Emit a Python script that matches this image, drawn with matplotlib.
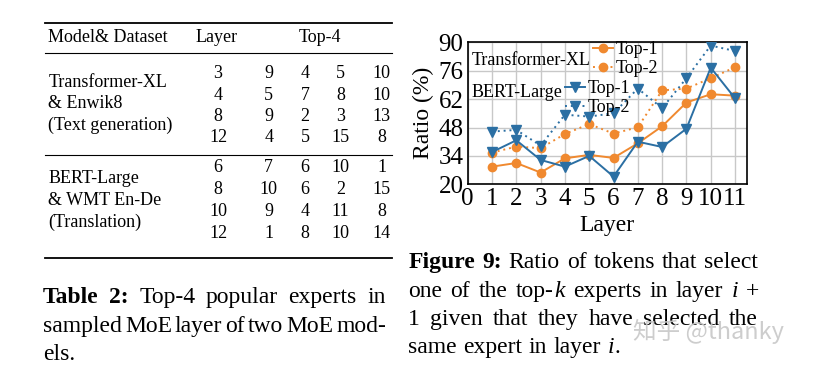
import matplotlib
matplotlib.use('Agg')
import matplotlib.pyplot as plt
from matplotlib.lines import Line2D

W, H = 814, 372
plt.rcParams['font.family'] = ['Liberation Serif', 'DejaVu Serif']
plt.rcParams['mathtext.fontset'] = 'stix'

# ---------------- data ----------------
layers = list(range(1, 12))
txl_top1 = [28.7, 30.5, 25.8, 32.8, 34.5, 33.0, 40.2, 48.6, 60.3, 64.4, 63.7]
txl_top2 = [35.6, 38.6, 37.8, 44.8, 49.7, 45.0, 48.1, 66.3, 67.2, 72.3, 77.7]
bert_top1 = [35.9, 41.7, 32.0, 28.7, 34.0, 23.8, 41.0, 38.4, 47.4, 77.5, 62.4]
bert_top2 = [46.0, 46.8, 39.1, 54.3, 53.4, 55.0, 67.2, 57.5, 72.3, 88.4, 85.7]
y_ticks = [20, 34, 48, 62, 76, 90]
x_ticks = list(range(0, 12))

table_header = ["Model& Dataset", "Layer", "Top-4"]
table_models = [["Transformer-XL", "& Enwik8", "(Text generation)"],
                ["BERT-Large", "& WMT En-De", "(Translation)"]]
table_layers = [[3, 4, 8, 12], [6, 8, 10, 12]]
table_top4 = [[[9, 4, 5, 10], [5, 7, 8, 10], [9, 2, 3, 13], [4, 5, 15, 8]],
              [[7, 6, 10, 1], [10, 6, 2, 15], [9, 4, 11, 8], [1, 8, 10, 14]]]

ORANGE = '#f0892f'
BLUE = '#2b6fa3'

fig = plt.figure(figsize=(W / 100, H / 100), dpi=100)


def fx(x):
    return x / W


def fy(y):
    return 1 - y / H


# ---------------- chart ----------------
ax = fig.add_axes([fx(467.7), fy(184.3), (746.7 - 467.7) / W, (184.3 - 42.3) / H])
ax.plot(layers, txl_top1, color=ORANGE, lw=1.4, marker='o', ms=6, label='Top-1', zorder=3)
ax.plot(layers, txl_top2, color=ORANGE, lw=1.4, ls=(0, (1, 2)), marker='o', ms=6, label='Top-2', zorder=3)
ax.plot(layers, bert_top1, color=BLUE, lw=1.4, marker='v', ms=7, label='Top-1', zorder=3)
ax.plot(layers, bert_top2, color=BLUE, lw=1.4, ls=(0, (1, 2)), marker='v', ms=7, label='Top-2', zorder=3)
ax.set_xlim(0, 11.48)
ax.set_ylim(20, 90)
ax.set_xticks(x_ticks)
ax.set_yticks(y_ticks)
ax.grid(True, color='#c8c8c8', lw=1.0)
ax.set_axisbelow(True)
for s in ax.spines.values():
    s.set_linewidth(1.2)
    s.set_color('black')
ax.tick_params(length=0, labelsize=18, pad=3)
ax.set_xlabel('Layer', fontsize=17, labelpad=3)
ax.set_ylabel('Ratio (%)', fontsize=17, labelpad=3)

lines = ax.get_lines()
leg1 = ax.legend(handles=lines[:2], loc='upper left', bbox_to_anchor=(fx(593), fy(41)),
                 bbox_transform=fig.transFigure, frameon=False, fontsize=13,
                 borderpad=0, borderaxespad=0, handlelength=1.1, handletextpad=0.15,
                 labelspacing=0.12)
ax.add_artist(leg1)
leg2 = ax.legend(handles=lines[2:], loc='upper left', bbox_to_anchor=(fx(565), fy(80)),
                 bbox_transform=fig.transFigure, frameon=False, fontsize=13,
                 borderpad=0, borderaxespad=0, handlelength=1.1, handletextpad=0.15,
                 labelspacing=0.12)
fig.text(fx(471.7), fy(65), 'Transformer-XL', fontsize=13, va='baseline')
fig.text(fx(471.7), fy(96.7), 'BERT-Large', fontsize=13, va='baseline')

# ---------------- table ----------------
TS = 13
rule_x0, rule_x1 = fx(45), fx(392)
for yy, lw in [(23.3, 1.3), (53.3, 0.8), (155, 0.8), (258.3, 1.3)]:
    fig.add_artist(Line2D([rule_x0, rule_x1], [fy(yy), fy(yy)], color='black', lw=lw,
                          transform=fig.transFigure))
fig.text(fx(48.3), fy(41.7), table_header[0], fontsize=TS, va='baseline', ha='left')
fig.text(fx(217), fy(41.7), table_header[1], fontsize=TS, va='baseline', ha='center')
fig.text(fx(320), fy(41.7), table_header[2], fontsize=TS, va='baseline', ha='center')

row_base = [[78.3, 99.8, 121, 142.2], [171.7, 193.8, 216, 238.3]]
label_base = [[86.7, 108.3, 130], [183.3, 205, 226.7]]
col_x = [218, 268.7, 305, 340.7, 381.5]
for g in range(2):
    for k, txt in enumerate(table_models[g]):
        fig.text(fx(48.3), fy(label_base[g][k]), txt, fontsize=TS, va='baseline', ha='left')
    for r in range(4):
        fig.text(fx(col_x[0]), fy(row_base[g][r]), str(table_layers[g][r]), fontsize=TS,
                 va='baseline', ha='center')
        for c in range(4):
            fig.text(fx(col_x[c + 1]), fy(row_base[g][r]), str(table_top4[g][r][c]), fontsize=TS,
                     va='baseline', ha='center')

# ---------------- captions (justified) ----------------
renderer = fig.canvas.get_renderer()
CS = 17
N = {}
B = {'weight': 'bold'}
I = {'style': 'italic'}


def draw_line(words, x0, x1, y, justify):
    built = []
    total = 0
    for word in words:
        runs = []
        wsum = 0
        for txt, kw in word:
            t = fig.text(0, fy(y), txt, fontsize=CS, va='baseline', ha='left', **kw)
            w = t.get_window_extent(renderer).width
            runs.append((t, w))
            wsum += w
        built.append(runs)
        total += wsum
    n = len(built)
    if justify and n > 1:
        gap = (x1 - x0 - total) / (n - 1)
    else:
        gap = 0.25 * CS * 100 / 72
    x = x0
    for runs in built:
        for t, w in runs:
            t.set_x(fx(x))
            x += w + 0.5
        x += gap


def words(s, kw=N):
    return [[(w, kw)] for w in s.split()]


tab_lines = [
    ([[("Table", B)], [("2:", B)]] + words("Top-4 popular experts in"), True),
    (words("sampled MoE layer of two MoE mod-"), True),
    (words("els."), False),
]
for i, (ws, j) in enumerate(tab_lines):
    draw_line(ws, 43, 383, [303.3, 331.7, 360][i], j)

fig_lines = [
    ([[("Figure", B)], [("9:", B)]] + words("Ratio of tokens that select"), True),
    (words("one of the") + [[("top-", N), ("k", I)]] + words("experts in layer") + [[("i", I)], [("+", N)]], True),
    (words("1 given that they have selected the"), True),
    (words("same expert in layer") + [[("i", I), (".", N)]], False),
]
for i, (ws, j) in enumerate(fig_lines):
    draw_line(ws, 408.3, 755, [268.3, 296.7, 325, 353.3][i], j)

# watermark
fig.text(fx(633), fy(339), '知乎 @thanky', fontsize=17, color='#c8c8c8', alpha=0.9,
         family=['Noto Sans CJK SC', 'DejaVu Sans'], va='baseline', ha='left', zorder=10)

fig.savefig('out.png', dpi=100)
